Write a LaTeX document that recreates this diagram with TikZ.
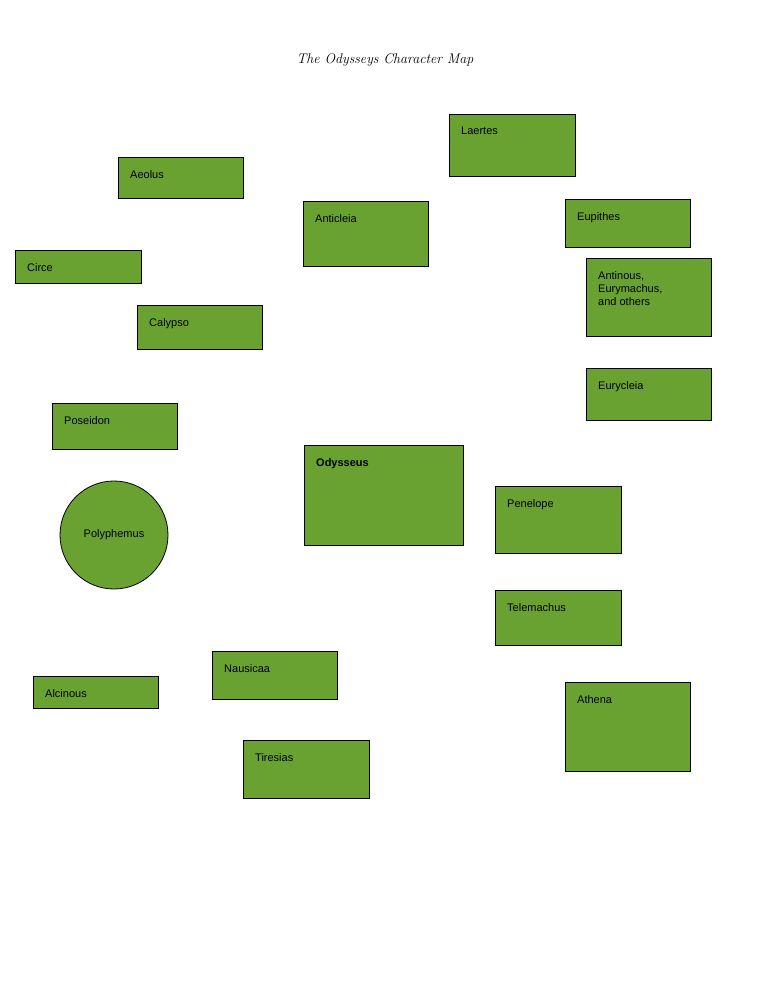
\documentclass[tikz,border=0pt]{standalone}
\usepackage{fontspec}
\setmainfont{Liberation Sans}
\begin{document}
\begin{tikzpicture}[x=1pt,y=-1pt,
  box/.style={draw=black, fill={rgb,255:red,106;green,162;blue,50}, line width=0.8pt},
  lbl/.style={anchor=north west, font=\fontsize{11}{13}\selectfont, align=left, inner sep=0pt}]
\useasboundingbox (0,0) rectangle (768,994);
\node[font=\fontsize{14}{16}\selectfont\fontspec{Latin Modern Roman}\itshape] (title) at (385,60) {The Odysseys Character Map};
\newcommand{\bx}[6]{\node[box, minimum width=#4-#2, minimum height=#5-#3, inner sep=0pt] (#1) at ({(#2+#4)/2},{(#3+#5)/2}) {};
  \node[lbl] (#1t) at (#2+12,#3+13) {#6};}
\bx{laertes}{449}{114}{575}{176}{Laertes}
\bx{aeolus}{118}{157}{243}{198}{Aeolus}
\bx{anticleia}{303}{201}{428}{266}{Anticleia}
\bx{eupithes}{565}{199}{690}{247}{Eupithes}
\bx{circe}{15}{250}{141}{283}{Circe}
\bx{antinous}{586}{258}{711}{336}{Antinous,\\Eurymachus,\\and others}
\bx{calypso}{137}{305}{262}{349}{Calypso}
\bx{eurycleia}{586}{368}{711}{420}{Eurycleia}
\bx{poseidon}{52}{403}{177}{449}{Poseidon}
\bx{odysseus}{304}{445}{463}{545}{\textbf{Odysseus}}
\bx{penelope}{495}{486}{621}{553}{Penelope}
\bx{telemachus}{495}{590}{621}{645}{Telemachus}
\bx{nausicaa}{212}{651}{337}{699}{Nausicaa}
\bx{alcinous}{33}{676}{158}{708}{Alcinous}
\bx{athena}{565}{682}{690}{771}{Athena}
\bx{tiresias}{243}{740}{369}{798}{Tiresias}
\node[box, circle, minimum size=108, inner sep=0pt, font=\fontsize{11}{13}\selectfont] (polyphemus) at (114,535) {Polyphemus};
\end{tikzpicture}
\end{document}
